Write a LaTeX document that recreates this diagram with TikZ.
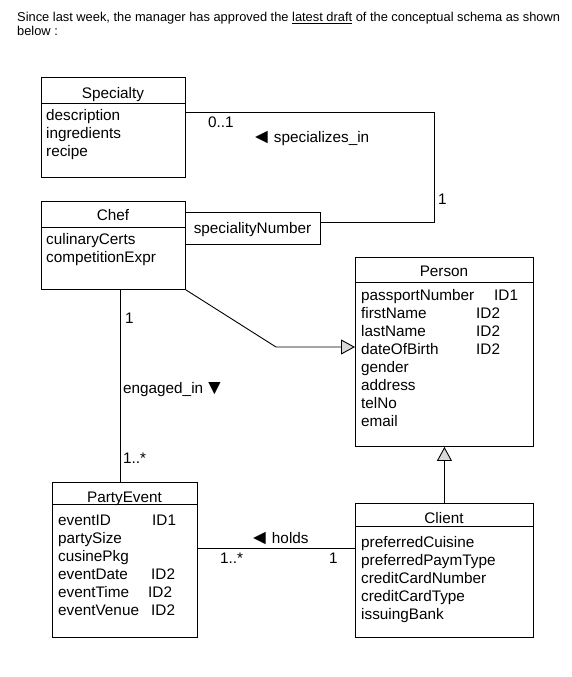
\documentclass[tikz,border=0pt]{standalone}
\usepackage{fontspec}
\setmainfont{Liberation Sans}
\usetikzlibrary{arrows.meta}
\newcommand{\diagfont}{\fontsize{15.3}{18}\selectfont}
\newcommand{\topfont}{\fontsize{12.85}{14}\selectfont}
\newcommand{\bigtri}[1]{{\fontsize{21}{21}\selectfont\raisebox{-1pt}{#1}}}
\begin{document}
\begin{tikzpicture}[x=1pt,y=-1pt,
  box/.style={draw, line width=0.9pt, inner sep=0, anchor=north west},
  txt/.style={anchor=west, inner sep=0, text height=10pt, text depth=0pt, font=\diagfont},
  head/.style={anchor=center, inner sep=0, text height=10pt, text depth=0pt, font=\diagfont},
  toptxt/.style={anchor=west, inner sep=0, text height=8pt, text depth=0pt, font=\topfont},
  conn/.style={draw, line width=0.9pt},
  gen/.style={draw, line width=0.9pt, -{Triangle[length=14pt, width=15pt, fill=gray!30, line width=0.9pt]}}]
\useasboundingbox (0,0) rectangle (572,677);
\fill[white] (0,0) rectangle (572,677);

% intro text
\node[toptxt] (intro1) at (17,18) {Since last week, the manager has approved the \underline{latest draft} of the conceptual schema as shown};
\node[toptxt] (intro2) at (17,32) {below :};

% Specialty
\node[box, minimum width=144pt, minimum height=100pt] (spec) at (41,77) {};
\draw[line width=0.9pt] ([yshift=-26pt]spec.north west) -- ([yshift=-26pt]spec.north east);
\node[head] (specH) at (113,93) {Specialty};
\node[txt] (specA1) at (46,115) {description};
\node[txt] (specA2) at (46,133) {ingredients};
\node[txt] (specA3) at (46,151) {recipe};

% Chef
\node[box, minimum width=144pt, minimum height=88pt] (chef) at (41,201) {};
\draw[line width=0.9pt] ([yshift=-26pt]chef.north west) -- ([yshift=-26pt]chef.north east);
\node[head] (chefH) at (113,215) {Chef};
\node[txt] (chefA1) at (46,239) {culinaryCerts};
\node[txt] (chefA2) at (46,257) {competitionExpr};

% specialityNumber qualifier
\node[box, minimum width=135pt, minimum height=32pt] (sn) at (185,212) {};
\node[head] (snT) at (252.5,228) {specialityNumber};

% Person
\node[box, minimum width=178pt, minimum height=189pt] (person) at (355,257) {};
\draw[line width=0.9pt] ([yshift=-25pt]person.north west) -- ([yshift=-25pt]person.north east);
\node[head] (personH) at (444,271) {Person};
\node[txt] (pA1) at (361,295) {passportNumber};
\node[txt] (pI1) at (494,295) {ID1};
\node[txt] (pA2) at (361,313) {firstName};
\node[txt] (pI2) at (476,313) {ID2};
\node[txt] (pA3) at (361,331) {lastName};
\node[txt] (pI3) at (476,331) {ID2};
\node[txt] (pA4) at (361,349) {dateOfBirth};
\node[txt] (pI4) at (476,349) {ID2};
\node[txt] (pA5) at (361,367) {gender};
\node[txt] (pA6) at (361,385) {address};
\node[txt] (pA7) at (361,403) {telNo};
\node[txt] (pA8) at (361,421) {email};

% PartyEvent
\node[box, minimum width=145pt, minimum height=155pt] (party) at (52,482) {};
\draw[line width=0.9pt] ([yshift=-22pt]party.north west) -- ([yshift=-22pt]party.north east);
\node[head] (partyH) at (124.5,497) {PartyEvent};
\node[txt] (eA1) at (58,520) {eventID};
\node[txt] (eI1) at (152,520) {ID1};
\node[txt] (eA2) at (58,538) {partySize};
\node[txt] (eA3) at (58,556) {cusinePkg};
\node[txt] (eA4) at (58,574) {eventDate};
\node[txt] (eI4) at (151,574) {ID2};
\node[txt] (eA5) at (58,592) {eventTime};
\node[txt] (eI5) at (148,592) {ID2};
\node[txt] (eA6) at (58,610) {eventVenue};
\node[txt] (eI6) at (151,610) {ID2};

% Client
\node[box, minimum width=178pt, minimum height=134pt] (client) at (355,503) {};
\draw[line width=0.9pt] ([yshift=-23pt]client.north west) -- ([yshift=-23pt]client.north east);
\node[head] (clientH) at (444,518) {Client};
\node[txt] (cA1) at (361,542) {preferredCuisine};
\node[txt] (cA2) at (361,560) {preferredPaymType};
\node[txt] (cA3) at (361,578) {creditCardNumber};
\node[txt] (cA4) at (361,596) {creditCardType};
\node[txt] (cA5) at (361,614) {issuingBank};

% specializes_in connector
\coordinate (s1) at (434,112);
\coordinate (s2) at (434,222);
\draw[conn] (spec.east |- s1) -- (s1) -- (s2) -- (sn.east |- s2);
\node[txt] (m01) at (208,122) {0..1};
\node[txt] (specLbl) at (251,137) {\bigtri{◄}\hspace{2pt}specializes\_in};
\node[txt] (m1a) at (438,199) {1};

% engaged_in connector
\coordinate (e) at (120,0);
\draw[conn] (chef.south -| e) -- (party.north -| e);
\node[txt] (m1b) at (125,318) {1};
\node[txt] (engLbl) at (123,388) {engaged\_in\hspace{1pt}\bigtri{▼}};
\node[txt] (mManyA) at (123,458) {1..*};

% holds connector
\coordinate (h) at (0,548);
\draw[conn] (party.east |- h) -- (client.west |- h);
\node[txt] (holdsLbl) at (249,538) {\bigtri{◄}\hspace{2pt}holds};
\node[txt] (mManyB) at (220,558) {1..*};
\node[txt] (m1c) at (329,558) {1};

% generalizations
\coordinate (b1) at (276,347);
\draw[gen] (chef.south east) -- (b1) -- (person.west |- b1);
\draw[gen] (client.north) -- (person.south);
\end{tikzpicture}
\end{document}
